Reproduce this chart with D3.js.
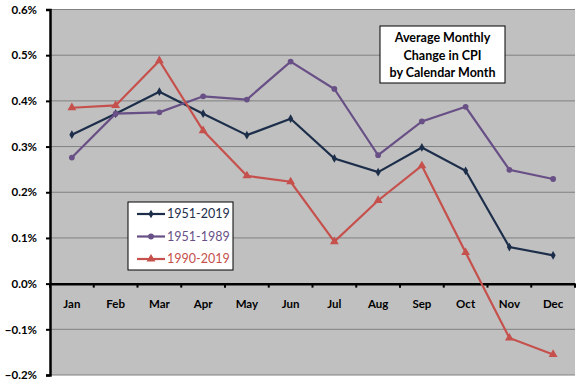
<!DOCTYPE html>
<html>
<head>
<meta charset="utf-8">
<script src="https://cdn.jsdelivr.net/npm/d3@7"></script>
<style>
body { margin:0; background:#fff; }
text { font-family: Lato, "Open Sans", sans-serif; }
</style>
</head>
<body>
<script>
var months = ['Jan','Feb','Mar','Apr','May','Jun','Jul','Aug','Sep','Oct','Nov','Dec'];
var yTicks = [-0.2,-0.1,0,0.1,0.2,0.3,0.4,0.5,0.6];
var s1951_2019 = [0.326,0.372,0.420,0.372,0.325,0.361,0.274,0.244,0.298,0.247,0.080,0.062];
var s1951_1989 = [0.276,0.372,0.375,0.410,0.403,0.486,0.426,0.281,0.355,0.387,0.249,0.229];
var s1990_2019 = [0.385,0.390,0.488,0.335,0.236,0.223,0.092,0.182,0.258,0.068,-0.119,-0.155];
var seriesNames = ['1951-2019','1951-1989','1990-2019'];

var params = {width:576, height:384, left:50, right:575, top:9.5, bottom:375};
var colors = ['#1c2e4a','#684f86','#c5504c'];
var series = [s1951_2019, s1951_1989, s1990_2019];

var svg = d3.select('body').append('svg')
  .attr('width', params.width).attr('height', params.height);

var x = d3.scaleBand().domain(months).range([params.left, params.right]);
var y = d3.scaleLinear().domain([-0.2, 0.6]).range([params.bottom, params.top]);

// plot area
svg.append('rect')
  .attr('x', params.left).attr('y', params.top)
  .attr('width', params.right - params.left)
  .attr('height', params.bottom - params.top)
  .style('fill', '#c0c0c0');

// gridlines
svg.append('g').selectAll('line').data(yTicks.filter(function(d){return d !== 0;}))
  .enter().append('line')
  .attr('x1', params.left).attr('x2', params.right)
  .attr('y1', function(d){return y(d);}).attr('y2', function(d){return y(d);})
  .style('stroke', '#808080').style('stroke-width', 1);

// y axis
var yAxis = d3.axisLeft(y).tickValues(yTicks).tickSize(4).tickPadding(9)
  .tickFormat(function(d){return d3.format('.1f')(d) + '%';});
var gy = svg.append('g').attr('transform', 'translate(' + params.left + ',0)').call(yAxis);
gy.select('.domain').style('stroke', '#000').style('stroke-width', 2.5);
gy.selectAll('.tick line').style('stroke', '#000').style('stroke-width', 2);
gy.selectAll('text').style('font-size', '11.5px').style('font-weight', 'bold').style('fill', '#000');

// x axis at zero
var xAxis = d3.axisBottom(x).tickSize(0).tickPadding(16);
var gx = svg.append('g').attr('transform', 'translate(0,' + y(0) + ')').call(xAxis);
gx.select('.domain').style('stroke', '#000').style('stroke-width', 2.5);
gx.selectAll('text').style('font-size', '11.5px').style('font-weight', 'bold').style('fill', '#000');
gx.selectAll('line.cat').data(d3.range(months.length + 1)).enter().append('line')
  .attr('x1', function(i){return params.left + i * x.step();})
  .attr('x2', function(i){return params.left + i * x.step();})
  .attr('y1', 0).attr('y2', 4)
  .style('stroke', '#000').style('stroke-width', 2);

var line = d3.line()
  .x(function(d,i){return x(months[i]) + x.bandwidth()/2;})
  .y(function(d){return y(d);});

var symbols = [d3.symbolDiamond, d3.symbolCircle, d3.symbolTriangle];
var symSizes = [22, 26, 34];

series.forEach(function(s, k){
  svg.append('path').datum(s)
    .attr('d', line)
    .style('fill', 'none').style('stroke', colors[k]).style('stroke-width', 2.2);
  svg.append('g').selectAll('path').data(s).enter().append('path')
    .attr('d', d3.symbol().type(symbols[k]).size(symSizes[k]))
    .attr('transform', function(d,i){
      return 'translate(' + (x(months[i]) + x.bandwidth()/2) + ',' + y(d) + ')';
    })
    .style('fill', colors[k]);
});

// legend
var lg = svg.append('g').attr('transform', 'translate(128,202)');
lg.append('rect').attr('width', 105).attr('height', 68)
  .style('fill', '#fff').style('stroke', '#000').style('stroke-width', 1);
seriesNames.forEach(function(n, k){
  var yy = 12 + k * 22.5;
  lg.append('line').attr('x1', 9).attr('x2', 37).attr('y1', yy).attr('y2', yy)
    .style('stroke', colors[k]).style('stroke-width', 2.2);
  lg.append('path').attr('d', d3.symbol().type(symbols[k]).size(symSizes[k]))
    .attr('transform', 'translate(23,' + yy + ')').style('fill', colors[k]);
  lg.append('text').attr('x', 39).attr('y', yy).attr('dy', '0.35em')
    .style('font-size', '12.5px').style('fill', colors[k]).text(n);
});

// title box
var tb = svg.append('g').attr('transform', 'translate(380,26)');
tb.append('rect').attr('width', 125).attr('height', 57)
  .style('fill', '#fff').style('stroke', '#000').style('stroke-width', 1);
['Average Monthly','Change in CPI','by Calendar Month'].forEach(function(t, i){
  tb.append('text').attr('x', 62.5).attr('y', 12 + i * 17.5).attr('dy', '0.35em')
    .attr('text-anchor', 'middle')
    .style('font-size', '12.5px').style('font-weight', 'bold').style('fill', '#000')
    .text(t);
});
</script>
</body>
</html>
